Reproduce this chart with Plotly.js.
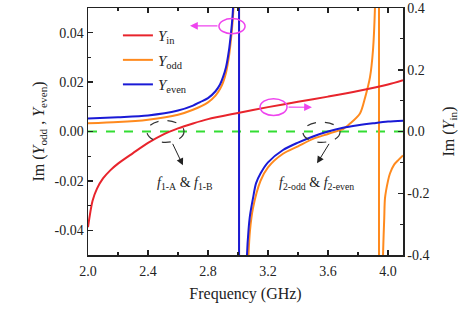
<!DOCTYPE html>
<html>
<head>
<meta charset="utf-8">
<script src="https://cdn.plot.ly/plotly-3.0.1.min.js"></script>
<style>html,body{margin:0;padding:0;background:#fff}#chart{width:474px;height:323px}</style>
</head>
<body>
<div id="chart"></div>
<script>
// ---- data ----
// Y_in (right axis, Im(Y_in))
const freqIn = [2.0, 2.03, 2.06, 2.1, 2.15, 2.2, 2.3, 2.4, 2.5, 2.6, 2.7, 2.8, 3.0, 3.2, 3.4, 3.6, 3.8, 4.0, 4.1];
const yIn    = [-0.31, -0.225, -0.185, -0.152, -0.125, -0.104, -0.07, -0.037, -0.01, 0.01, 0.026, 0.04, 0.06, 0.079, 0.096, 0.113, 0.131, 0.152, 0.166];

// Y_odd (left axis)
const freqOdd = [2.0, 2.2, 2.4, 2.6, 2.7, 2.8, 2.85, 2.88, 2.9, 2.92, 2.94, 2.95, 2.96, 2.97, 2.99, 3.007, 3.007, 3.04, 3.07, 3.08, 3.1, 3.15, 3.2, 3.3, 3.4, 3.5, 3.6, 3.65, 3.7, 3.747, 3.813, 3.847, 3.88, 3.9, 3.913, 3.93, 3.94, 3.94, 3.955, 3.967, 3.975, 3.98, 4.0, 4.013, 4.04, 4.067, 4.1];
const yOdd    = [0.0033, 0.0038, 0.0048, 0.0068, 0.0088, 0.0118, 0.0145, 0.0172, 0.0198, 0.0238, 0.0305, 0.0355, 0.0415, 0.05, 0.09, 0.6, -0.6, -0.12, -0.05, -0.04, -0.031, -0.02, -0.0145, -0.009, -0.006, -0.003, -0.001, 0.0, 0.001, 0.0032, 0.0073, 0.0137, 0.022, 0.033, 0.05, 0.12, 0.6, -0.6, -0.12, -0.05, -0.035, -0.027, -0.02, -0.017, -0.0135, -0.0117, -0.0097];

// Y_even (left axis)
const freqEven = [2.0, 2.2, 2.4, 2.6, 2.7, 2.75, 2.8, 2.85, 2.88, 2.9, 2.92, 2.94, 2.95, 2.96, 2.967, 2.99, 3.007, 3.007, 3.03, 3.06, 3.07, 3.08, 3.1, 3.12, 3.15, 3.2, 3.3, 3.4, 3.5, 3.6, 3.7, 3.8, 3.9, 4.0, 4.1];
const yEven    = [0.0053, 0.0058, 0.0065, 0.0085, 0.0105, 0.012, 0.0135, 0.0163, 0.019, 0.022, 0.026, 0.033, 0.038, 0.044, 0.05, 0.1, 0.6, -0.6, -0.15, -0.05, -0.04, -0.034, -0.027, -0.021, -0.017, -0.0125, -0.0075, -0.0045, -0.002, 0.0, 0.0015, 0.0025, 0.0033, 0.004, 0.0044];

// zero reference line
const freqZero = [2.0, 4.1];
const yZero    = [0.0, 0.0];

// tick labels
const xTicks  = [2.0, 2.4, 2.8, 3.2, 3.6, 4.0];
const y1Ticks = [-0.04, -0.02, 0.0, 0.02, 0.04];
const y2Ticks = [-0.4, -0.2, 0.0, 0.2, 0.4];

// ---- styling ----
const FONT = 'Liberation Serif, Times New Roman, serif';
const RED = '#e8242c', ORANGE = '#ff8a1e', BLUE = '#1a1ad6', GREEN = '#33dd33', MAG = '#ee44ee';

// split a series at its poles (repeated x): smooth branches + straight vertical jumps
function poleTraces(xs, ys, name, color, group) {
  const out = [];
  let start = 0, first = true;
  for (let i = 0; i < xs.length; i++) {
    const isJump = i < xs.length - 1 && xs[i] === xs[i + 1];
    if (isJump || i === xs.length - 1) {
      out.push({x: xs.slice(start, i + 1), y: ys.slice(start, i + 1), mode: 'lines', name: name,
        legendgroup: group, showlegend: first, yaxis: 'y',
        line: {color: color, width: 2, shape: 'spline', smoothing: 0.8}});
      first = false;
      if (isJump) {
        out.push({x: [xs[i], xs[i + 1]], y: [ys[i], ys[i + 1]], mode: 'lines', legendgroup: group,
          showlegend: false, yaxis: 'y', line: {color: color, width: 2}});
        start = i + 1;
      }
    }
  }
  return out;
}

const traces = [
  {x: freqZero, y: yZero, mode: 'lines', line: {color: GREEN, width: 2, dash: 'dash'}, showlegend: false, yaxis: 'y', hoverinfo: 'skip'},
  {x: freqIn, y: yIn, mode: 'lines', name: '<i>Y</i><sub>in</sub>', legendgroup: 'in', line: {color: RED, width: 2, shape: 'spline', smoothing: 0.8}, yaxis: 'y2'}
].concat(poleTraces(freqOdd, yOdd, '<i>Y</i><sub>odd</sub>', ORANGE, 'odd'))
 .concat(poleTraces(freqEven, yEven, '<i>Y</i><sub>even</sub>', BLUE, 'even'));

const axisCommon = {
  showgrid: false, zeroline: false, showline: true, linecolor: '#222', linewidth: 1.5,
  ticks: 'inside', ticklen: 5, tickwidth: 1.5, tickcolor: '#222',
  tickfont: {family: FONT, size: 14, color: '#222'}
};

const layout = {
  width: 474, height: 323,
  margin: {l: 88, r: 71, t: 8, b: 68},
  paper_bgcolor: '#fff', plot_bgcolor: '#fff',
  font: {family: FONT, color: '#222'},
  showlegend: true,
  legend: {x: 0.095, y: 0.955, xanchor: 'left', yanchor: 'top', bgcolor: 'rgba(0,0,0,0)', font: {family: FONT, size: 15, color: '#222'}, tracegroupgap: 2},
  xaxis: Object.assign({}, axisCommon, {
    range: [2.0, 4.1], tickvals: xTicks, ticktext: xTicks.map(v => v.toFixed(1)),
    mirror: 'ticks', ticklabelstandoff: 3,
    minor: {dtick: 0.2, tick0: 2.0, ticks: 'inside', ticklen: 3, tickwidth: 1.2, tickcolor: '#222'},
    title: {text: 'Frequency (GHz)', font: {family: FONT, size: 16, color: '#222'}, standoff: 9}
  }),
  yaxis: Object.assign({}, axisCommon, {
    range: [-0.05, 0.05], tickvals: y1Ticks, ticktext: y1Ticks.map(v => v.toFixed(2)),
    minor: {dtick: 0.01, tick0: 0, ticks: 'inside', ticklen: 3, tickwidth: 1.2, tickcolor: '#222'},
    title: {text: 'Im (<i>Y</i><sub>odd</sub> , <i>Y</i><sub>even</sub>)', font: {family: FONT, size: 16, color: '#222'}, standoff: 6}
  }),
  yaxis2: Object.assign({}, axisCommon, {
    overlaying: 'y', side: 'right',
    range: [-0.4, 0.4], tickvals: y2Ticks, ticktext: y2Ticks.map(v => v.toFixed(1)),
    minor: {dtick: 0.1, tick0: 0, ticks: 'inside', ticklen: 3, tickwidth: 1.2, tickcolor: '#222'},
    title: {text: 'Im (<i>Y</i><sub>in</sub>)', font: {family: FONT, size: 16, color: '#222'}, standoff: 14}
  }),
  shapes: [
    {type: 'circle', xref: 'x', yref: 'y', x0: 2.393, x1: 2.64, y0: -0.0044, y1: 0.0044, line: {color: '#333', width: 1.2, dash: 'dash'}},
    {type: 'circle', xref: 'x', yref: 'y', x0: 3.433, x1: 3.68, y0: -0.0044, y1: 0.0038, line: {color: '#333', width: 1.2, dash: 'dash'}},
    {type: 'circle', xref: 'x', yref: 'y', x0: 2.873, x1: 3.047, y0: 0.0396, y1: 0.0457, line: {color: MAG, width: 1.5}},
    {type: 'circle', xref: 'x', yref: 'y', x0: 3.147, x1: 3.327, y0: 0.0065, y1: 0.0133, line: {color: MAG, width: 1.5}}
  ],
  annotations: [
    {xref: 'x', yref: 'y', axref: 'x', ayref: 'y', x: 2.633, y: -0.0137, ax: 2.56, ay: -0.0044, showarrow: true, arrowhead: 2, arrowsize: 1.4, arrowwidth: 1, arrowcolor: '#222', text: ''},
    {xref: 'x', yref: 'y', axref: 'x', ayref: 'y', x: 3.527, y: -0.0129, ax: 3.613, ay: -0.0044, showarrow: true, arrowhead: 2, arrowsize: 1.4, arrowwidth: 1, arrowcolor: '#222', text: ''},
    {xref: 'x', yref: 'y', axref: 'x', ayref: 'y', x: 2.68, y: 0.0428, ax: 2.873, ay: 0.0428, showarrow: true, arrowhead: 2, arrowsize: 1.3, arrowwidth: 1.2, arrowcolor: MAG, text: ''},
    {xref: 'x', yref: 'y', axref: 'x', ayref: 'y', x: 3.493, y: 0.0098, ax: 3.327, ay: 0.0099, showarrow: true, arrowhead: 2, arrowsize: 1.3, arrowwidth: 1.2, arrowcolor: MAG, text: ''},
    {xref: 'x', yref: 'y', x: 2.647, y: -0.021, showarrow: false, text: '<i>f</i><sub>1-A</sub> & <i>f</i><sub>1-B</sub>', font: {family: FONT, size: 14, color: '#222'}},
    {xref: 'x', yref: 'y', x: 3.52, y: -0.021, showarrow: false, text: '<i>f</i><sub>2-odd</sub> & <i>f</i><sub>2-even</sub>', font: {family: FONT, size: 14, color: '#222'}}
  ]
};

Plotly.newPlot('chart', traces, layout, {displayModeBar: false, staticPlot: true});
</script>
</body>
</html>
